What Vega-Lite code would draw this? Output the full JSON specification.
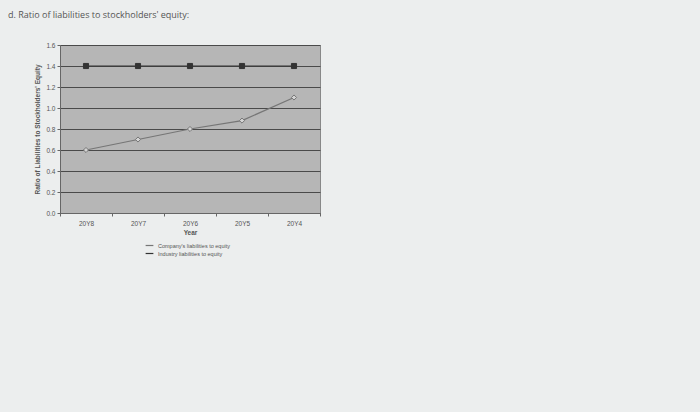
{
  "$schema": "https://vega.github.io/schema/vega-lite/v6.json",
  "autosize": "none",
  "width": 260,
  "height": 168,
  "padding": {"left": 60, "top": 45, "right": 380, "bottom": 199},
  "background": "#eceeee",
  "title": {
    "text": "d. Ratio of liabilities to stockholders' equity:",
    "anchor": "start",
    "frame": "group",
    "dx": -52,
    "offset": 22,
    "fontSize": 9,
    "fontWeight": "normal",
    "font": "Open Sans",
    "color": "#555555"
  },
  "config": {
    "view": {"fill": "#b6b6b6", "stroke": "#888888"},
    "axis": {
      "labelFont": "Liberation Sans",
      "titleFont": "Liberation Sans",
      "labelFontSize": 6.5,
      "titleFontSize": 6.5,
      "labelColor": "#555555",
      "titleColor": "#555555",
      "domainColor": "#666666",
      "tickColor": "#666666",
      "tickSize": 3
    }
  },
  "data": {
    "values": [
      {"Year": "20Y8", "Series": "Company's liabilities to equity", "Ratio": 0.6},
      {"Year": "20Y7", "Series": "Company's liabilities to equity", "Ratio": 0.7},
      {"Year": "20Y6", "Series": "Company's liabilities to equity", "Ratio": 0.8},
      {"Year": "20Y5", "Series": "Company's liabilities to equity", "Ratio": 0.88},
      {"Year": "20Y4", "Series": "Company's liabilities to equity", "Ratio": 1.1},
      {"Year": "20Y8", "Series": "Industry liabilities to equity", "Ratio": 1.4},
      {"Year": "20Y7", "Series": "Industry liabilities to equity", "Ratio": 1.4},
      {"Year": "20Y6", "Series": "Industry liabilities to equity", "Ratio": 1.4},
      {"Year": "20Y5", "Series": "Industry liabilities to equity", "Ratio": 1.4},
      {"Year": "20Y4", "Series": "Industry liabilities to equity", "Ratio": 1.4}
    ]
  },
  "encoding": {
    "x": {
      "field": "Year",
      "type": "nominal",
      "sort": ["20Y8", "20Y7", "20Y6", "20Y5", "20Y4"],
      "scale": {"type": "band", "paddingInner": 0, "paddingOuter": 0},
      "axis": {"labelAngle": 0, "tickBand": "extent", "labelPadding": 4, "titleFontWeight": "bold", "titlePadding": 3}
    },
    "y": {
      "field": "Ratio",
      "type": "quantitative",
      "scale": {"domain": [0, 1.6]},
      "title": "Ratio of Liabilities to Stockholders' Equity",
      "axis": {
        "values": [0, 0.2, 0.4, 0.6, 0.8, 1.0, 1.2, 1.4, 1.6],
        "format": ".1f",
        "gridColor": "#4a4a4a",
        "gridWidth": 1,
        "titleFontWeight": "bold",
        "titlePadding": 5
      }
    },
    "color": {
      "field": "Series",
      "type": "nominal",
      "scale": {"range": ["#767676", "#333333"]},
      "legend": {
        "title": null,
        "orient": "none",
        "legendX": 85,
        "legendY": 196,
        "direction": "vertical",
        "labelFontSize": 5.5,
        "labelFont": "Liberation Sans",
        "labelColor": "#555555",
        "symbolType": "stroke",
        "symbolSize": 60,
        "symbolStrokeWidth": 1.2,
        "rowPadding": 0
      }
    }
  },
  "layer": [
    {"mark": {"type": "line", "strokeWidth": 1.2}},
    {
      "mark": {"type": "point", "filled": false, "size": 26, "strokeWidth": 1, "opacity": 1},
      "encoding": {
        "shape": {
          "field": "Series",
          "type": "nominal",
          "scale": {"range": ["diamond", "square"]},
          "legend": null
        },
        "fill": {
          "field": "Series",
          "type": "nominal",
          "scale": {"range": ["#d4d4d4", "#333333"]},
          "legend": null
        }
      }
    }
  ]
}
